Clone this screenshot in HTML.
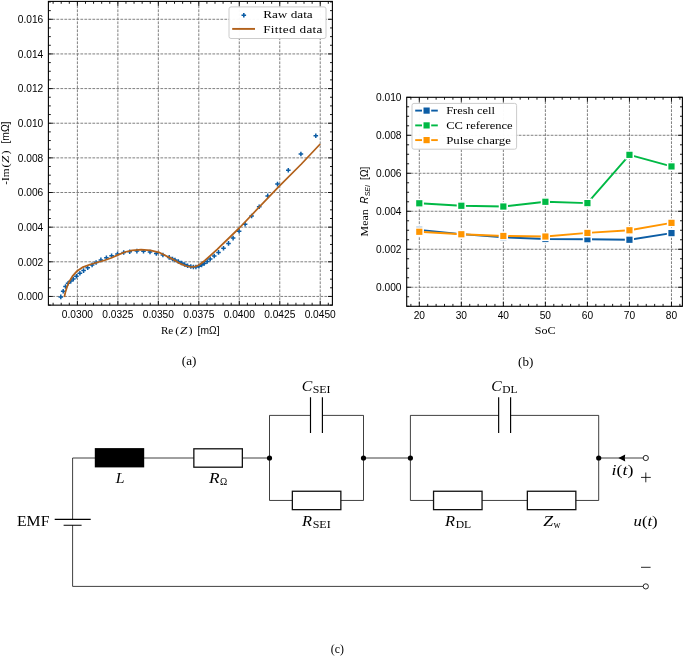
<!DOCTYPE html>
<html>
<head>
<meta charset="utf-8">
<title>Figure</title>
<style>
html,body{margin:0;padding:0;background:#fff;}
body{width:685px;height:656px;overflow:hidden;font-family:"Liberation Sans",sans-serif;}
svg{display:block;will-change:transform;}
text{fill:#000;}
</style>
</head>
<body>
<svg width="685" height="656" viewBox="0 0 685 656">
<rect x="0" y="0" width="685" height="656" fill="#fff"/>
<g id="plotA">
<path d="M48.4 296.45H332.4M48.4 261.81H332.4M48.4 227.16H332.4M48.4 192.51H332.4M48.4 157.87H332.4M48.4 123.22H332.4M48.4 88.58H332.4M48.4 53.93H332.4M48.4 19.29H332.4M77.40 1.4V305.15M117.87 1.4V305.15M158.34 1.4V305.15M198.81 1.4V305.15M239.28 1.4V305.15M279.75 1.4V305.15M320.22 1.4V305.15" stroke="#727272" stroke-width="0.9" stroke-dasharray="2.75 1.25" fill="none"/>
<path d="M48.4 296.45h4.4M332.4 296.45h-4.4M48.4 261.81h4.4M332.4 261.81h-4.4M48.4 227.16h4.4M332.4 227.16h-4.4M48.4 192.51h4.4M332.4 192.51h-4.4M48.4 157.87h4.4M332.4 157.87h-4.4M48.4 123.22h4.4M332.4 123.22h-4.4M48.4 88.58h4.4M332.4 88.58h-4.4M48.4 53.93h4.4M332.4 53.93h-4.4M48.4 19.29h4.4M332.4 19.29h-4.4M48.4 305.11h2.4M332.4 305.11h-2.4M48.4 287.79h2.4M332.4 287.79h-2.4M48.4 279.13h2.4M332.4 279.13h-2.4M48.4 270.47h2.4M332.4 270.47h-2.4M48.4 253.14h2.4M332.4 253.14h-2.4M48.4 244.48h2.4M332.4 244.48h-2.4M48.4 235.82h2.4M332.4 235.82h-2.4M48.4 218.50h2.4M332.4 218.50h-2.4M48.4 209.84h2.4M332.4 209.84h-2.4M48.4 201.18h2.4M332.4 201.18h-2.4M48.4 183.85h2.4M332.4 183.85h-2.4M48.4 175.19h2.4M332.4 175.19h-2.4M48.4 166.53h2.4M332.4 166.53h-2.4M48.4 149.21h2.4M332.4 149.21h-2.4M48.4 140.55h2.4M332.4 140.55h-2.4M48.4 131.89h2.4M332.4 131.89h-2.4M48.4 114.56h2.4M332.4 114.56h-2.4M48.4 105.90h2.4M332.4 105.90h-2.4M48.4 97.24h2.4M332.4 97.24h-2.4M48.4 79.92h2.4M332.4 79.92h-2.4M48.4 71.26h2.4M332.4 71.26h-2.4M48.4 62.60h2.4M332.4 62.60h-2.4M48.4 45.27h2.4M332.4 45.27h-2.4M48.4 36.61h2.4M332.4 36.61h-2.4M48.4 27.95h2.4M332.4 27.95h-2.4M48.4 10.63h2.4M332.4 10.63h-2.4M48.4 1.97h2.4M332.4 1.97h-2.4M77.40 305.15v-4.4M77.40 1.4v4.4M117.87 305.15v-4.4M117.87 1.4v4.4M158.34 305.15v-4.4M158.34 1.4v4.4M198.81 305.15v-4.4M198.81 1.4v4.4M239.28 305.15v-4.4M239.28 1.4v4.4M279.75 305.15v-4.4M279.75 1.4v4.4M320.22 305.15v-4.4M320.22 1.4v4.4M53.12 305.15v-2.4M53.12 1.4v2.4M61.21 305.15v-2.4M61.21 1.4v2.4M69.31 305.15v-2.4M69.31 1.4v2.4M85.49 305.15v-2.4M85.49 1.4v2.4M93.59 305.15v-2.4M93.59 1.4v2.4M101.68 305.15v-2.4M101.68 1.4v2.4M109.78 305.15v-2.4M109.78 1.4v2.4M125.96 305.15v-2.4M125.96 1.4v2.4M134.06 305.15v-2.4M134.06 1.4v2.4M142.15 305.15v-2.4M142.15 1.4v2.4M150.25 305.15v-2.4M150.25 1.4v2.4M166.43 305.15v-2.4M166.43 1.4v2.4M174.53 305.15v-2.4M174.53 1.4v2.4M182.62 305.15v-2.4M182.62 1.4v2.4M190.72 305.15v-2.4M190.72 1.4v2.4M206.90 305.15v-2.4M206.90 1.4v2.4M215.00 305.15v-2.4M215.00 1.4v2.4M223.09 305.15v-2.4M223.09 1.4v2.4M231.19 305.15v-2.4M231.19 1.4v2.4M247.37 305.15v-2.4M247.37 1.4v2.4M255.47 305.15v-2.4M255.47 1.4v2.4M263.56 305.15v-2.4M263.56 1.4v2.4M271.66 305.15v-2.4M271.66 1.4v2.4M287.84 305.15v-2.4M287.84 1.4v2.4M295.94 305.15v-2.4M295.94 1.4v2.4M304.03 305.15v-2.4M304.03 1.4v2.4M312.13 305.15v-2.4M312.13 1.4v2.4M328.31 305.15v-2.4M328.31 1.4v2.4" stroke="#000" stroke-width="0.9" fill="none"/>
<path d="M58.5 296.9h4.6M60.8 294.6v4.6M60.9 291.2h4.6M63.2 288.9v4.6M63.2 286.5h4.6M65.5 284.2v4.6M65.8 283.2h4.6M68.1 280.9v4.6M68.5 281.1h4.6M70.8 278.8v4.6M71.0 279.1h4.6M73.3 276.8v4.6M74.1 276.2h4.6M76.4 273.9v4.6M77.6 273.3h4.6M79.9 271.0v4.6M81.3 270.6h4.6M83.6 268.3v4.6M85.4 267.8h4.6M87.7 265.5v4.6M89.8 264.9h4.6M92.1 262.6v4.6M93.8 262.5h4.6M96.1 260.2v4.6M98.6 259.9h4.6M100.9 257.6v4.6M104.1 257.8h4.6M106.4 255.5v4.6M109.3 255.8h4.6M111.6 253.5v4.6M115.2 254.0h4.6M117.5 251.7v4.6M121.4 252.5h4.6M123.7 250.2v4.6M127.4 251.7h4.6M129.7 249.4v4.6M134.6 251.1h4.6M136.9 248.8v4.6M141.2 251.2h4.6M143.5 248.9v4.6M147.7 252.0h4.6M150.0 249.7v4.6M154.0 253.4h4.6M156.3 251.1v4.6M160.6 255.0h4.6M162.9 252.7v4.6M166.9 257.4h4.6M169.2 255.1v4.6M170.2 259.0h4.6M172.5 256.7v4.6M172.7 260.0h4.6M175.0 257.7v4.6M176.0 261.5h4.6M178.3 259.2v4.6M179.2 263.0h4.6M181.5 260.7v4.6M182.3 264.5h4.6M184.6 262.2v4.6M185.3 265.8h4.6M187.6 263.5v4.6M188.5 266.5h4.6M190.8 264.2v4.6M191.1 267.0h4.6M193.4 264.7v4.6M193.6 267.0h4.6M195.9 264.7v4.6M196.6 266.3h4.6M198.9 264.0v4.6M199.3 265.0h4.6M201.6 262.7v4.6M201.9 263.5h4.6M204.2 261.2v4.6M204.9 261.5h4.6M207.2 259.2v4.6M207.9 259.0h4.6M210.2 256.7v4.6M211.9 256.0h4.6M214.2 253.7v4.6M216.2 252.4h4.6M218.5 250.1v4.6M221.2 248.2h4.6M223.5 245.9v4.6M226.2 243.4h4.6M228.5 241.1v4.6M230.8 238.1h4.6M233.1 235.8v4.6M236.8 231.3h4.6M239.1 229.0v4.6M242.8 224.3h4.6M245.1 222.0v4.6M249.3 216.0h4.6M251.6 213.7v4.6M256.9 206.7h4.6M259.2 204.4v4.6M265.4 195.9h4.6M267.7 193.6v4.6M275.2 184.1h4.6M277.5 181.8v4.6M286.0 170.3h4.6M288.3 168.0v4.6M298.6 154.0h4.6M300.9 151.7v4.6M313.5 135.8h4.6M315.8 133.5v4.6" stroke="#0C5DA5" stroke-width="1.5" fill="none"/>
<path d="M64.3 297.0L65.3 292.6L66.7 287.9L69.0 282.0L72.5 276.2L77.2 270.9L83.0 267.1L90.0 264.5L97.0 262.5L104.1 260.5L111.1 258.0L118.1 254.9L125.1 252.0L132.1 250.3L141.1 249.7L150.5 250.4L159.8 252.7L171.5 258.6L180.8 263.9L186.0 266.0L190.8 267.0L194.9 266.7L199.0 265.0L204.7 260.7L217.2 249.4L239.3 228.0L278.8 186.6L301.4 164.0L320.2 144.0" stroke="#B2611B" stroke-width="1.75" fill="none" stroke-linejoin="round"/>
<rect x="48.4" y="1.4" width="284.0" height="303.75" fill="none" stroke="#000" stroke-width="1.1"/>
<text x="43.3" y="300.35" text-anchor="end" font-family='"Liberation Sans", sans-serif' font-size="10.2">0.000</text>
<text x="43.3" y="265.70" text-anchor="end" font-family='"Liberation Sans", sans-serif' font-size="10.2">0.002</text>
<text x="43.3" y="231.06" text-anchor="end" font-family='"Liberation Sans", sans-serif' font-size="10.2">0.004</text>
<text x="43.3" y="196.41" text-anchor="end" font-family='"Liberation Sans", sans-serif' font-size="10.2">0.006</text>
<text x="43.3" y="161.77" text-anchor="end" font-family='"Liberation Sans", sans-serif' font-size="10.2">0.008</text>
<text x="43.3" y="127.12" text-anchor="end" font-family='"Liberation Sans", sans-serif' font-size="10.2">0.010</text>
<text x="43.3" y="92.48" text-anchor="end" font-family='"Liberation Sans", sans-serif' font-size="10.2">0.012</text>
<text x="43.3" y="57.83" text-anchor="end" font-family='"Liberation Sans", sans-serif' font-size="10.2">0.014</text>
<text x="43.3" y="23.19" text-anchor="end" font-family='"Liberation Sans", sans-serif' font-size="10.2">0.016</text>
<text x="77.40" y="318.4" text-anchor="middle" font-family='"Liberation Sans", sans-serif' font-size="10.2">0.0300</text>
<text x="117.87" y="318.4" text-anchor="middle" font-family='"Liberation Sans", sans-serif' font-size="10.2">0.0325</text>
<text x="158.34" y="318.4" text-anchor="middle" font-family='"Liberation Sans", sans-serif' font-size="10.2">0.0350</text>
<text x="198.81" y="318.4" text-anchor="middle" font-family='"Liberation Sans", sans-serif' font-size="10.2">0.0375</text>
<text x="239.28" y="318.4" text-anchor="middle" font-family='"Liberation Sans", sans-serif' font-size="10.2">0.0400</text>
<text x="279.75" y="318.4" text-anchor="middle" font-family='"Liberation Sans", sans-serif' font-size="10.2">0.0425</text>
<text x="320.22" y="318.4" text-anchor="middle" font-family='"Liberation Sans", sans-serif' font-size="10.2">0.0450</text>
<text transform="translate(160.90 333.80) scale(1.007 1)" letter-spacing="0.000" font-family='"Liberation Serif", serif' font-size="11.0">Re</text>
<text transform="translate(177.30 333.80) scale(1.100 1)" text-anchor="middle" font-family='"Liberation Serif", serif' font-size="11.0">(</text>
<text transform="translate(183.70 333.80) scale(1.180 1)" text-anchor="middle" font-family='"Liberation Serif", serif' font-size="11.0" font-style="italic">Z</text>
<text transform="translate(190.50 333.80) scale(1.100 1)" text-anchor="middle" font-family='"Liberation Serif", serif' font-size="11.0">)</text>
<text transform="translate(197.60 333.80) scale(1.005 1)" letter-spacing="0.000" font-family='"Liberation Sans", sans-serif' font-size="10.2">[m&#937;]</text>
<text transform="translate(8.70 184.70) rotate(-90) scale(1.026 1)" letter-spacing="0.000" font-family='"Liberation Serif", serif' font-size="11.0">-Im</text>
<text transform="translate(8.70 165.60) rotate(-90) scale(1.100 1)" text-anchor="middle" font-family='"Liberation Serif", serif' font-size="11.0">(</text>
<text transform="translate(8.70 159.50) rotate(-90) scale(1.180 1)" text-anchor="middle" font-family='"Liberation Serif", serif' font-size="11.0" font-style="italic">Z</text>
<text transform="translate(8.70 152.60) rotate(-90) scale(1.100 1)" text-anchor="middle" font-family='"Liberation Serif", serif' font-size="11.0">)</text>
<text transform="translate(8.70 143.60) rotate(-90) scale(1.014 1)" letter-spacing="0.000" font-family='"Liberation Sans", sans-serif' font-size="10.2">[m&#937;]</text>
<rect x="229" y="6.9" width="97" height="31.6" rx="2" fill="#fff" fill-opacity="0.96" stroke="#ccc" stroke-width="1"/>
<path d="M241.5 15.3h4.6M243.8 13v4.6" stroke="#0C5DA5" stroke-width="1.6" fill="none"/>
<path d="M232.2 28.9h22.8" stroke="#B2611B" stroke-width="1.9" fill="none"/>
<text transform="translate(263.20 17.70) scale(1.200 1)" letter-spacing="0.014" font-family='"Liberation Serif", serif' font-size="11.0">Raw data</text>
<text transform="translate(263.20 32.50) scale(1.200 1)" letter-spacing="0.268" font-family='"Liberation Serif", serif' font-size="11.0">Fitted data</text>
<text transform="translate(181.80 365.30) scale(1.061 1)" letter-spacing="-0.000" font-family='"Liberation Serif", serif' font-size="12.4">(a)</text>
</g>
<g id="plotB">
<path d="M406.7 287.25H682.4M406.7 249.26H682.4M406.7 211.27H682.4M406.7 173.28H682.4M406.7 135.29H682.4M419.30 97.3V306.3M461.33 97.3V306.3M503.36 97.3V306.3M545.39 97.3V306.3M587.42 97.3V306.3M629.45 97.3V306.3M671.48 97.3V306.3" stroke="#727272" stroke-width="0.9" stroke-dasharray="2.75 1.25" fill="none"/>
<path d="M406.7 287.25h4.4M682.4 287.25h-4.4M406.7 249.26h4.4M682.4 249.26h-4.4M406.7 211.27h4.4M682.4 211.27h-4.4M406.7 173.28h4.4M682.4 173.28h-4.4M406.7 135.29h4.4M682.4 135.29h-4.4M406.7 97.30h4.4M682.4 97.30h-4.4M406.7 306.25h2.4M682.4 306.25h-2.4M406.7 296.75h2.4M682.4 296.75h-2.4M406.7 277.75h2.4M682.4 277.75h-2.4M406.7 268.25h2.4M682.4 268.25h-2.4M406.7 258.76h2.4M682.4 258.76h-2.4M406.7 239.76h2.4M682.4 239.76h-2.4M406.7 230.26h2.4M682.4 230.26h-2.4M406.7 220.77h2.4M682.4 220.77h-2.4M406.7 201.77h2.4M682.4 201.77h-2.4M406.7 192.27h2.4M682.4 192.27h-2.4M406.7 182.78h2.4M682.4 182.78h-2.4M406.7 163.78h2.4M682.4 163.78h-2.4M406.7 154.28h2.4M682.4 154.28h-2.4M406.7 144.79h2.4M682.4 144.79h-2.4M406.7 125.79h2.4M682.4 125.79h-2.4M406.7 116.29h2.4M682.4 116.29h-2.4M406.7 106.80h2.4M682.4 106.80h-2.4M419.30 306.3v-4.4M419.30 97.3v4.4M461.33 306.3v-4.4M461.33 97.3v4.4M503.36 306.3v-4.4M503.36 97.3v4.4M545.39 306.3v-4.4M545.39 97.3v4.4M587.42 306.3v-4.4M587.42 97.3v4.4M629.45 306.3v-4.4M629.45 97.3v4.4M671.48 306.3v-4.4M671.48 97.3v4.4M410.89 306.3v-2.4M410.89 97.3v2.4M427.71 306.3v-2.4M427.71 97.3v2.4M436.11 306.3v-2.4M436.11 97.3v2.4M444.52 306.3v-2.4M444.52 97.3v2.4M452.92 306.3v-2.4M452.92 97.3v2.4M469.74 306.3v-2.4M469.74 97.3v2.4M478.14 306.3v-2.4M478.14 97.3v2.4M486.55 306.3v-2.4M486.55 97.3v2.4M494.95 306.3v-2.4M494.95 97.3v2.4M511.77 306.3v-2.4M511.77 97.3v2.4M520.17 306.3v-2.4M520.17 97.3v2.4M528.58 306.3v-2.4M528.58 97.3v2.4M536.98 306.3v-2.4M536.98 97.3v2.4M553.80 306.3v-2.4M553.80 97.3v2.4M562.20 306.3v-2.4M562.20 97.3v2.4M570.61 306.3v-2.4M570.61 97.3v2.4M579.01 306.3v-2.4M579.01 97.3v2.4M595.83 306.3v-2.4M595.83 97.3v2.4M604.23 306.3v-2.4M604.23 97.3v2.4M612.64 306.3v-2.4M612.64 97.3v2.4M621.04 306.3v-2.4M621.04 97.3v2.4M637.86 306.3v-2.4M637.86 97.3v2.4M646.26 306.3v-2.4M646.26 97.3v2.4M654.67 306.3v-2.4M654.67 97.3v2.4M663.07 306.3v-2.4M663.07 97.3v2.4M679.89 306.3v-2.4M679.89 97.3v2.4" stroke="#000" stroke-width="0.9" fill="none"/>
<path d="M419.3 229.9L461.3 234.1L503.4 237.3L545.4 239.0L587.4 239.2L629.5 239.8L671.5 233.1" stroke="#0C5DA5" stroke-width="1.9" fill="none" stroke-linejoin="round"/>
<rect x="415.45" y="226.04" width="7.7" height="7.7" fill="#0C5DA5" stroke="#fff" stroke-width="1.5"/>
<rect x="457.48" y="230.21" width="7.7" height="7.7" fill="#0C5DA5" stroke="#fff" stroke-width="1.5"/>
<rect x="499.51" y="233.44" width="7.7" height="7.7" fill="#0C5DA5" stroke="#fff" stroke-width="1.5"/>
<rect x="541.54" y="235.15" width="7.7" height="7.7" fill="#0C5DA5" stroke="#fff" stroke-width="1.5"/>
<rect x="583.57" y="235.34" width="7.7" height="7.7" fill="#0C5DA5" stroke="#fff" stroke-width="1.5"/>
<rect x="625.60" y="235.91" width="7.7" height="7.7" fill="#0C5DA5" stroke="#fff" stroke-width="1.5"/>
<rect x="667.63" y="229.26" width="7.7" height="7.7" fill="#0C5DA5" stroke="#fff" stroke-width="1.5"/>
<path d="M419.3 203.3L461.3 205.8L503.4 206.5L545.4 201.8L587.4 203.1L629.5 154.9L671.5 166.4" stroke="#00B945" stroke-width="1.9" fill="none" stroke-linejoin="round"/>
<rect x="415.45" y="199.44" width="7.7" height="7.7" fill="#00B945" stroke="#fff" stroke-width="1.5"/>
<rect x="457.48" y="201.91" width="7.7" height="7.7" fill="#00B945" stroke="#fff" stroke-width="1.5"/>
<rect x="499.51" y="202.67" width="7.7" height="7.7" fill="#00B945" stroke="#fff" stroke-width="1.5"/>
<rect x="541.54" y="197.92" width="7.7" height="7.7" fill="#00B945" stroke="#fff" stroke-width="1.5"/>
<rect x="583.57" y="199.25" width="7.7" height="7.7" fill="#00B945" stroke="#fff" stroke-width="1.5"/>
<rect x="625.60" y="151.00" width="7.7" height="7.7" fill="#00B945" stroke="#fff" stroke-width="1.5"/>
<rect x="667.63" y="162.59" width="7.7" height="7.7" fill="#00B945" stroke="#fff" stroke-width="1.5"/>
<path d="M419.3 231.8L461.3 234.3L503.4 236.0L545.4 236.5L587.4 232.9L629.5 230.3L671.5 222.9" stroke="#FF9500" stroke-width="1.9" fill="none" stroke-linejoin="round"/>
<rect x="415.45" y="227.93" width="7.7" height="7.7" fill="#FF9500" stroke="#fff" stroke-width="1.5"/>
<rect x="457.48" y="230.40" width="7.7" height="7.7" fill="#FF9500" stroke="#fff" stroke-width="1.5"/>
<rect x="499.51" y="232.11" width="7.7" height="7.7" fill="#FF9500" stroke="#fff" stroke-width="1.5"/>
<rect x="541.54" y="232.68" width="7.7" height="7.7" fill="#FF9500" stroke="#fff" stroke-width="1.5"/>
<rect x="583.57" y="229.07" width="7.7" height="7.7" fill="#FF9500" stroke="#fff" stroke-width="1.5"/>
<rect x="625.60" y="226.41" width="7.7" height="7.7" fill="#FF9500" stroke="#fff" stroke-width="1.5"/>
<rect x="667.63" y="219.01" width="7.7" height="7.7" fill="#FF9500" stroke="#fff" stroke-width="1.5"/>
<rect x="406.7" y="97.3" width="275.70" height="209.00" fill="none" stroke="#000" stroke-width="1.1"/>
<text x="401.5" y="291.15" text-anchor="end" font-family='"Liberation Sans", sans-serif' font-size="10.2">0.000</text>
<text x="401.5" y="253.16" text-anchor="end" font-family='"Liberation Sans", sans-serif' font-size="10.2">0.002</text>
<text x="401.5" y="215.17" text-anchor="end" font-family='"Liberation Sans", sans-serif' font-size="10.2">0.004</text>
<text x="401.5" y="177.18" text-anchor="end" font-family='"Liberation Sans", sans-serif' font-size="10.2">0.006</text>
<text x="401.5" y="139.19" text-anchor="end" font-family='"Liberation Sans", sans-serif' font-size="10.2">0.008</text>
<text x="401.5" y="101.20" text-anchor="end" font-family='"Liberation Sans", sans-serif' font-size="10.2">0.010</text>
<text x="419.30" y="318.8" text-anchor="middle" font-family='"Liberation Sans", sans-serif' font-size="10.2">20</text>
<text x="461.33" y="318.8" text-anchor="middle" font-family='"Liberation Sans", sans-serif' font-size="10.2">30</text>
<text x="503.36" y="318.8" text-anchor="middle" font-family='"Liberation Sans", sans-serif' font-size="10.2">40</text>
<text x="545.39" y="318.8" text-anchor="middle" font-family='"Liberation Sans", sans-serif' font-size="10.2">50</text>
<text x="587.42" y="318.8" text-anchor="middle" font-family='"Liberation Sans", sans-serif' font-size="10.2">60</text>
<text x="629.45" y="318.8" text-anchor="middle" font-family='"Liberation Sans", sans-serif' font-size="10.2">70</text>
<text x="671.48" y="318.8" text-anchor="middle" font-family='"Liberation Sans", sans-serif' font-size="10.2">80</text>
<text transform="translate(534.80 334.30) scale(1.097 1)" letter-spacing="0.000" font-family='"Liberation Serif", serif' font-size="11.0">SoC</text>
<text transform="translate(368.10 236.40) rotate(-90) scale(1.082 1)" letter-spacing="0.000" font-family='"Liberation Serif", serif' font-size="11.0">Mean</text>
<text transform="translate(368.10 203.80) rotate(-90) scale(0.977 1)" letter-spacing="0.000" font-family='"Liberation Sans", sans-serif' font-size="10.2" font-style="italic">R</text>
<text transform="translate(370.00 196.30) rotate(-90) scale(0.974 1)" letter-spacing="0.000" font-family='"Liberation Sans", sans-serif' font-size="7.2" font-style="italic">SEI</text>
<text transform="translate(368.10 179.90) rotate(-90) scale(1.001 1)" letter-spacing="0.000" font-family='"Liberation Sans", sans-serif' font-size="10.2">[&#937;]</text>
<rect x="412" y="103.4" width="104.6" height="45.8" rx="2" fill="#fff" fill-opacity="0.96" stroke="#ccc" stroke-width="1"/>
<path d="M415.2 110.6h22.6" stroke="#0C5DA5" stroke-width="1.9"/>
<rect x="422.75" y="106.75" width="7.7" height="7.7" fill="#0C5DA5" stroke="#fff" stroke-width="1.5"/>
<text transform="translate(446.20 114.30) scale(1.131 1)" letter-spacing="0.000" font-family='"Liberation Serif", serif' font-size="11.0">Fresh cell</text>
<path d="M415.2 125.4h22.6" stroke="#00B945" stroke-width="1.9"/>
<rect x="422.75" y="121.55" width="7.7" height="7.7" fill="#00B945" stroke="#fff" stroke-width="1.5"/>
<text transform="translate(446.20 129.00) scale(1.140 1)" letter-spacing="-0.000" font-family='"Liberation Serif", serif' font-size="11.0">CC reference</text>
<path d="M415.2 140.1h22.6" stroke="#FF9500" stroke-width="1.9"/>
<rect x="422.75" y="136.25" width="7.7" height="7.7" fill="#FF9500" stroke="#fff" stroke-width="1.5"/>
<text transform="translate(446.20 143.60) scale(1.163 1)" letter-spacing="0.000" font-family='"Liberation Serif", serif' font-size="11.0">Pulse charge</text>
<text transform="translate(518.10 365.60) scale(1.058 1)" letter-spacing="0.000" font-family='"Liberation Serif", serif' font-size="12.4">(b)</text>
</g>
<g id="circuit" fill="none" stroke="#000">
<path d="M72.6 458.0V519.4M72.6 525.2V586.4H643.1999999999999M72.6 458.0H95M144 458.0H193.85M242.35 458.0H269.5M269.5 500.45V415.4H310.5M322.4 415.4H363.5V500.45H340.85M292.35 500.45H269.5M363.5 458.0H410.4M410.4 500.45V415.4H498.65M510.6 415.4H598.7V500.45H575.85M527.35 500.45H482.05M433.55 500.45H410.4M598.7 458.0H643.1999999999999" stroke-width="0.75" stroke-linejoin="miter"/>
<path d="M310.5 397.3V432.9M322.4 397.3V432.9M498.65 397.3V432.9M510.6 397.3V432.9" stroke-width="1.15"/>
<path d="M54.7 519.4H90.7M63.6 525.2H81.6" stroke-width="1.1"/>
<rect x="94.8" y="448.1" width="49.4" height="19.3" fill="#000" stroke="none"/>
<rect x="193.85" y="448.80" width="48.5" height="18.4" stroke-width="1.3" stroke="#111"/>
<rect x="292.35" y="491.25" width="48.5" height="18.4" stroke-width="1.3" stroke="#111"/>
<rect x="433.55" y="491.25" width="48.5" height="18.4" stroke-width="1.3" stroke="#111"/>
<rect x="527.35" y="491.25" width="48.5" height="18.4" stroke-width="1.3" stroke="#111"/>
<circle cx="269.5" cy="458.0" r="2.6" fill="#000" stroke="none"/>
<circle cx="363.5" cy="458.0" r="2.6" fill="#000" stroke="none"/>
<circle cx="410.4" cy="458.0" r="2.6" fill="#000" stroke="none"/>
<circle cx="598.7" cy="458.0" r="2.6" fill="#000" stroke="none"/>
<circle cx="645.8" cy="458.0" r="2.6" fill="#fff" stroke-width="0.85"/>
<circle cx="645.8" cy="586.4" r="2.6" fill="#fff" stroke-width="0.85"/>
<path d="M618.4 458.0L625.2 454.6Q624.4 458.0 625.2 461.4Z" fill="#000" stroke="none"/>
</g>
<text transform="translate(17.00 525.90) scale(1.051 1)" letter-spacing="0.000" font-family='"Liberation Serif", serif' font-size="15.0">EMF</text>
<text transform="translate(115.69 483.40) scale(1.056 1)" font-family='"Liberation Serif", serif' font-size="15.0" font-style="italic">L</text>
<text transform="translate(208.90 483.40) scale(1.156 1)" font-family='"Liberation Serif", serif' font-size="15.0" font-style="italic">R</text>
<text transform="translate(219.99 485.40) scale(0.900 1)" font-family='"Liberation Serif", serif' font-size="10.8">&#937;</text>
<text transform="translate(301.80 390.60) scale(1.054 1)" font-family='"Liberation Serif", serif' font-size="15.0" font-style="italic">C</text>
<text transform="translate(312.70 392.90) scale(1.099 1)" letter-spacing="0.000" font-family='"Liberation Serif", serif' font-size="10.8">SEI</text>
<text transform="translate(301.90 525.90) scale(1.102 1)" font-family='"Liberation Serif", serif' font-size="15.0" font-style="italic">R</text>
<text transform="translate(312.70 527.90) scale(1.111 1)" letter-spacing="0.000" font-family='"Liberation Serif", serif' font-size="10.8">SEI</text>
<text transform="translate(491.30 390.80) scale(1.044 1)" font-family='"Liberation Serif", serif' font-size="15.0" font-style="italic">C</text>
<text transform="translate(502.20 392.70) scale(1.063 1)" letter-spacing="0.000" font-family='"Liberation Serif", serif' font-size="10.8">DL</text>
<text transform="translate(444.90 525.90) scale(1.102 1)" font-family='"Liberation Serif", serif' font-size="15.0" font-style="italic">R</text>
<text transform="translate(455.70 527.80) scale(1.077 1)" letter-spacing="0.000" font-family='"Liberation Serif", serif' font-size="10.8">DL</text>
<text transform="translate(543.20 525.90) scale(1.180 1)" font-family='"Liberation Serif", serif' font-size="15.0" font-style="italic">Z</text>
<text transform="translate(553.49 527.80) scale(0.900 1)" font-family='"Liberation Serif", serif' font-size="10.8">w</text>
<text transform="translate(611.50 475.40) scale(1.195 1)" letter-spacing="0.000" font-family='"Liberation Serif", serif' font-size="15.0"><tspan font-style="italic">i</tspan>(<tspan font-style="italic">t</tspan>)</text>
<text transform="translate(633.50 526.20) scale(1.117 1)" letter-spacing="0.000" font-family='"Liberation Serif", serif' font-size="15.0"><tspan font-style="italic">u</tspan>(<tspan font-style="italic">t</tspan>)</text>
<path d="M641 477.4h9.8M645.8 472.5v9.8M641 567.3h9.6" stroke="#000" stroke-width="0.85" fill="none"/>
<text transform="translate(330.80 653.10) scale(0.952 1)" letter-spacing="0.000" font-family='"Liberation Serif", serif' font-size="12.4">(c)</text>
</svg>
</body>
</html>
